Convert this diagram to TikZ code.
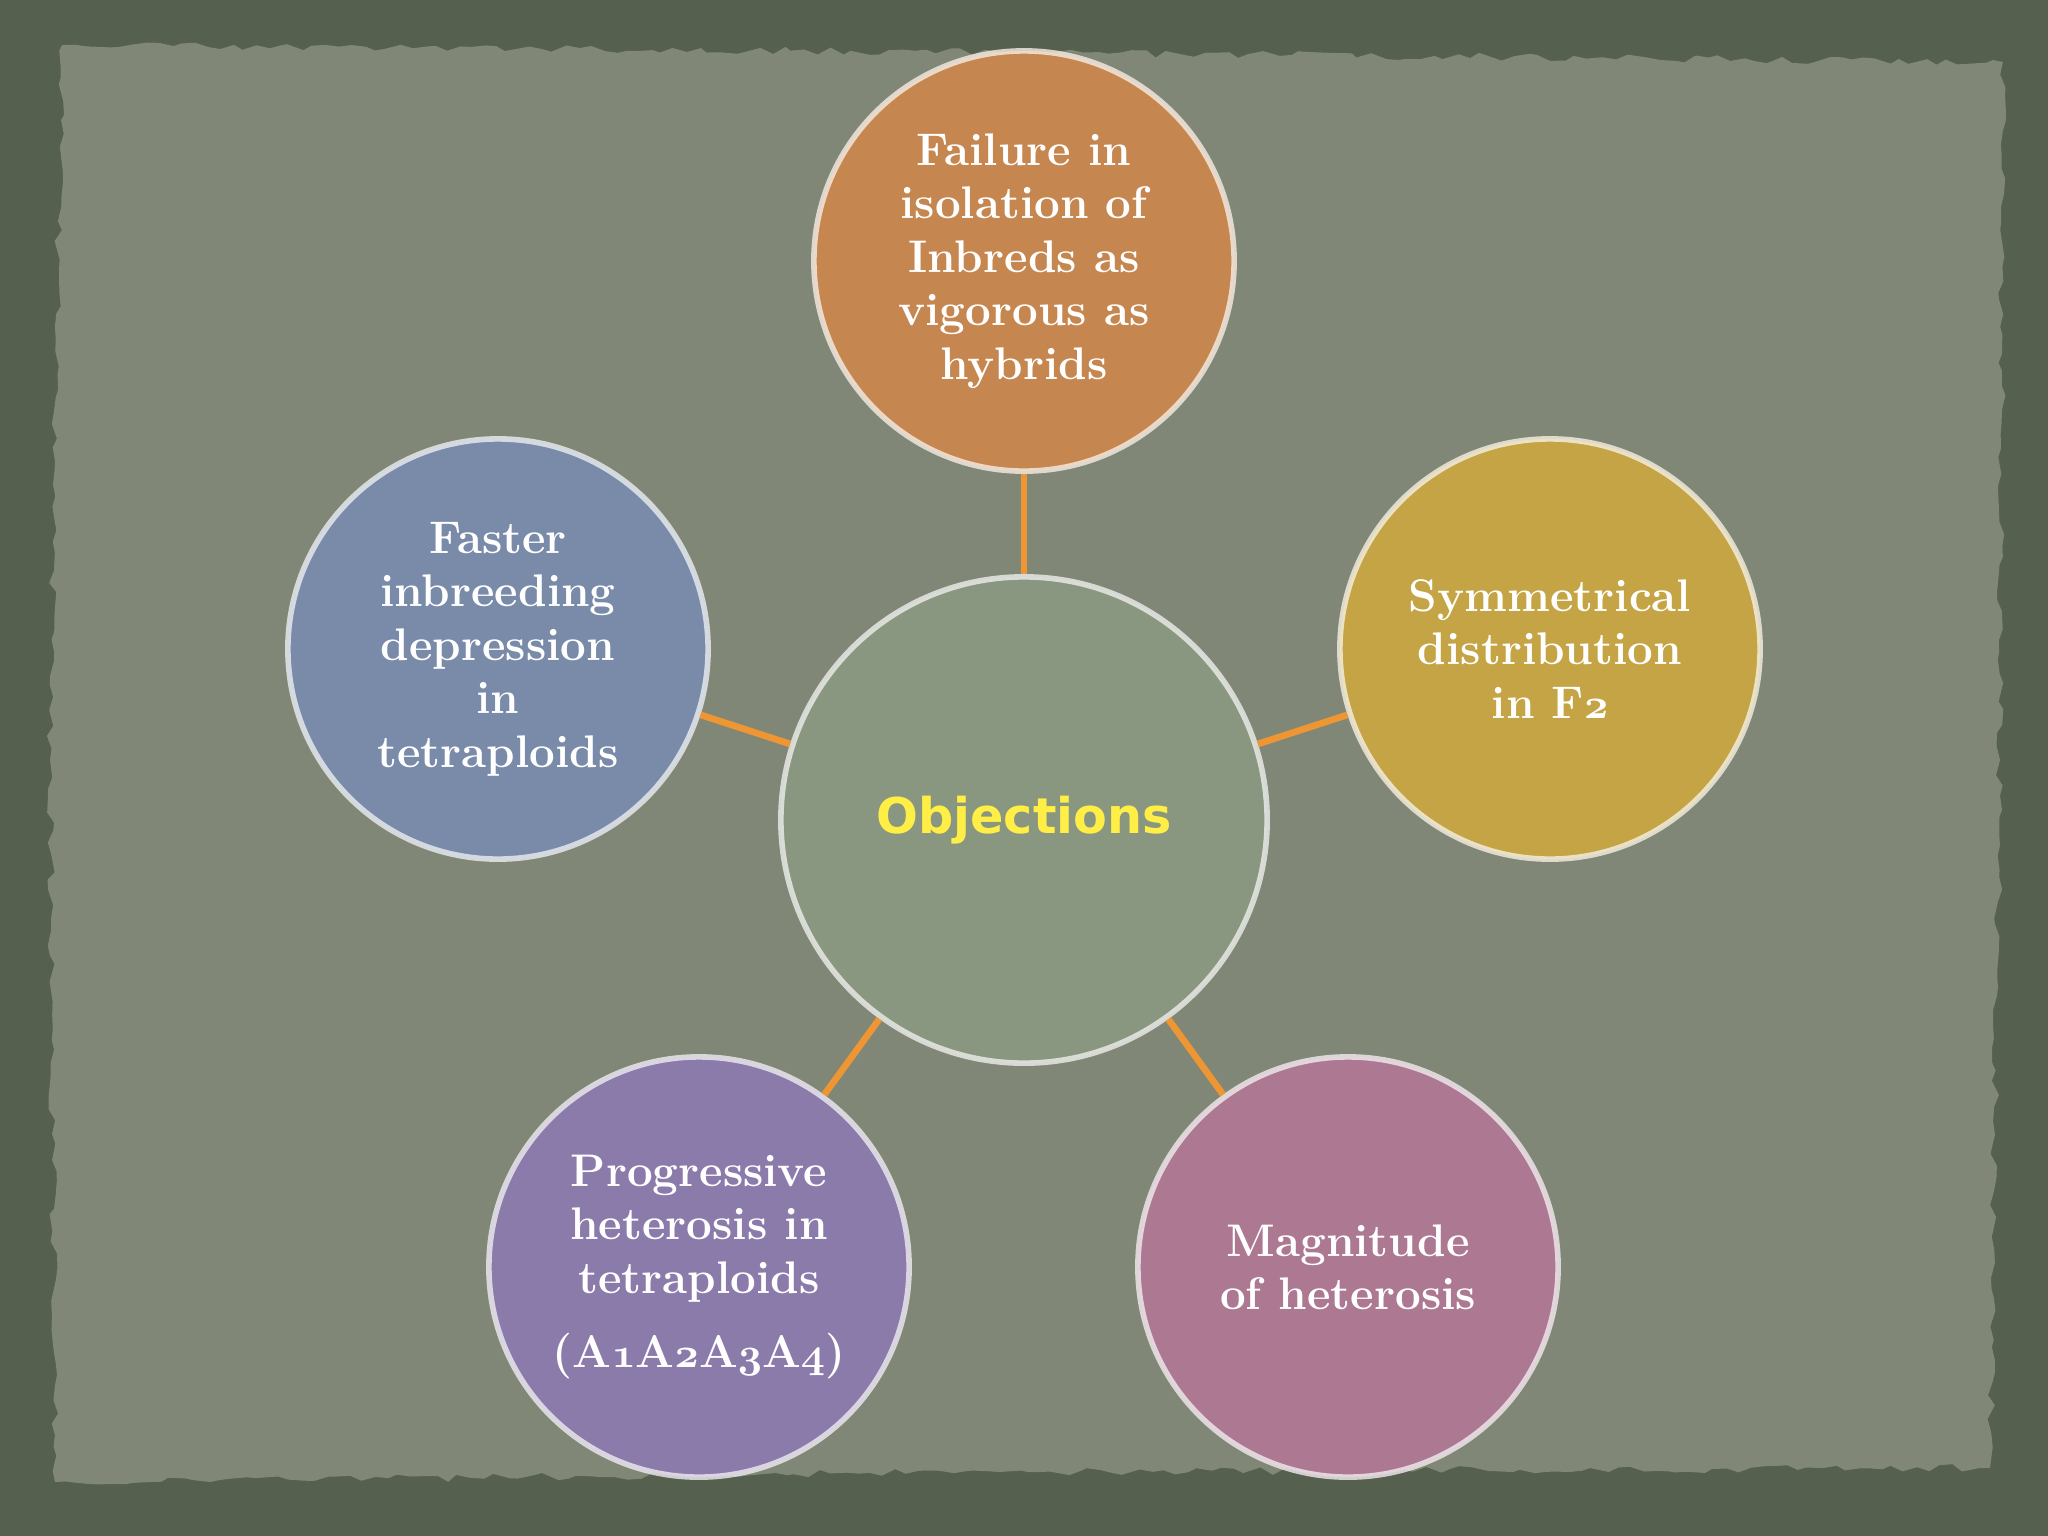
\documentclass[tikz,border=0pt]{standalone}
\usepackage{fontspec}
\usepackage{tikz}
\usetikzlibrary{calc, positioning, decorations.pathmorphing}
\newfontfamily\roundfont{DejaVu Sans}
\definecolor{FrameGreen}{RGB}{86,96,78}
\definecolor{PaperGrey}{RGB}{128,135,118}
\definecolor{LinkOrange}{RGB}{238,150,52}
\definecolor{HubGreen}{RGB}{138,151,128}
\definecolor{TopOrange}{RGB}{198,134,80}
\definecolor{RightGold}{RGB}{196,164,68}
\definecolor{LeftBlue}{RGB}{121,139,168}
\definecolor{LowPurple}{RGB}{139,123,170}
\definecolor{LowPink}{RGB}{172,120,146}
\definecolor{TitleYellow}{RGB}{255,238,70}
\newcommand{\osnum}[1]{{\boldmath$\mathnormal{#1}$}}

\begin{document}
\begin{tikzpicture}[x=0.01cm, y=-0.01cm,
  bubble/.style={circle, minimum size=4.2cm, inner sep=0pt, fill=#1, draw=white!85!#1,
                 draw opacity=0.8, line width=1.6pt, text=white, align=center,
                 font=\fontsize{13}{15.2}\selectfont\bfseries},
  link/.style={LinkOrange, line width=1.9pt}]
  \useasboundingbox (0,0) rectangle (2048,1536);
  % torn paper on the dark frame
  \fill[FrameGreen] (0,0) rectangle (2048,1536);
  \pgfmathsetseed{11}
  \fill[PaperGrey, decorate, decoration={random steps, segment length=0.12cm, amplitude=0.04cm}]
    (62,45) -- (1000,52) -- (2003,62) -- (2000,760) -- (1990,1468)
    -- (1000,1472) -- (55,1482) -- (50,760) -- cycle;

  \node[bubble=HubGreen, minimum size=4.86cm, text=TitleYellow,
        font=\roundfont\fontsize{14}{16}\selectfont\bfseries] (hub) at (1024,820)
    {\raisebox{-0.05cm}{Objections}};

  \node[bubble=TopOrange] (failure) at (1024,261)
    {Failure in\\ isolation of\\ Inbreds as\\ vigorous as\\ hybrids};
  \node[bubble=RightGold] (symm) at (1550,649)
    {Symmetrical\\ distribution\\ in F\osnum{2}};
  \node[bubble=LowPink] (magnitude) at (1348,1267)
    {Magnitude\\ of heterosis};
  \node[bubble=LowPurple] (progressive) at (699,1267)
    {Progressive\\ heterosis in\\ tetraploids\\[6pt] (A\osnum{1}A\osnum{2}A\osnum{3}A\osnum{4})};
  \node[bubble=LeftBlue] (faster) at (498,649)
    {Faster\\ inbreeding\\ depression\\ in\\ tetraploids};

  \foreach \leaf in {failure, symm, magnitude, progressive, faster}
    \draw[link] (hub) -- (\leaf);
\end{tikzpicture}
\end{document}
